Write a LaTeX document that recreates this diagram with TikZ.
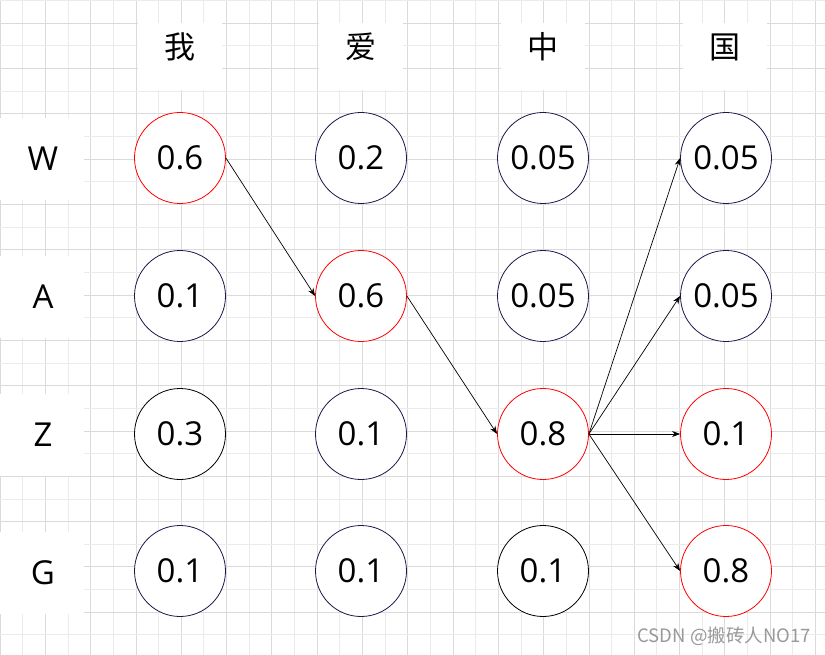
\documentclass[tikz,border=0pt]{standalone}
\usepackage{fontspec}
\setmainfont{Open Sans}
\newfontfamily\cjk{Noto Sans CJK SC}
\usetikzlibrary{arrows.meta}
\definecolor{navy}{HTML}{1A1A4A}
\definecolor{gridlight}{HTML}{EBEBEB}
\definecolor{griddark}{HTML}{DADADA}
\definecolor{redline}{HTML}{FF0000}
\tikzset{
  prob/.style={circle, draw, fill=white, line width=0.8pt, minimum size=91pt, inner sep=0pt, font=\fontsize{33}{38}\selectfont},
  navyc/.style={prob, draw=navy},
  blackc/.style={prob, draw=black},
  redc/.style={prob, draw=redline},
  headbox/.style={fill=white, minimum width=84pt, minimum height=67pt, inner sep=0pt},
  rowbox/.style={fill=white, minimum width=84pt, minimum height=82pt, inner sep=0pt},
  headtxt/.style={font=\cjk\fontsize{31}{35}\selectfont, inner sep=0pt},
  rowtxt/.style={font=\fontsize{33}{38}\selectfont, inner sep=0pt},
  link/.style={-{Stealth[length=8pt,width=6pt]}, line width=0.7pt, black},
}
\begin{document}
\begin{tikzpicture}[x=1pt,y=-1pt]
\useasboundingbox (0,0) rectangle (825,655);
\fill[white] (0,0) rectangle (825,655);
% grid
\foreach \n in {1,3,...,35} \draw[gridlight, line width=0.8pt] ({22.65*\n},0) -- ({22.65*\n},655);
\foreach \n in {0,2,...,36} \draw[griddark, line width=0.8pt] ({22.65*\n},0) -- ({22.65*\n},655);
\foreach \n in {0,2,...,28} \draw[gridlight, line width=0.8pt] (0,{0.6+22.65*\n}) -- (825,{0.6+22.65*\n});
\foreach \n in {1,3,...,27} \draw[griddark, line width=0.8pt] (0,{0.6+22.65*\n}) -- (825,{0.6+22.65*\n});
% header boxes and labels
\foreach \x/\t [count=\i] in {180/我,361/爱,543/中,725/国}{
  \node[headbox] (hb\i) at (\x,56.5) {};
  \node[headtxt] (h\i) at (\x,47) {\t};
}
% row label boxes
\foreach \y/\t [count=\i] in {159/W,297/A,435/Z,573/G}{
  \node[rowbox] (rb\i) at (42,\y) {};
  \node[rowtxt] (r\i) at (43,\y) {\t};
}
% circles
\node[redc]   (c11) at (180,158) {0.6};
\node[navyc]  (c12) at (180,296) {0.1};
\node[blackc] (c13) at (180,434) {0.3};
\node[navyc]  (c14) at (180,571) {0.1};
\node[navyc]  (c21) at (361,158) {0.2};
\node[redc]   (c22) at (361,296) {0.6};
\node[navyc]  (c23) at (361,434) {0.1};
\node[navyc]  (c24) at (361,571) {0.1};
\node[navyc]  (c31) at (543,158) {0.05};
\node[navyc]  (c32) at (543,296) {0.05};
\node[redc]   (c33) at (543,434) {0.8};
\node[blackc] (c34) at (543,571) {0.1};
\node[navyc]  (c41) at (726,158) {0.05};
\node[navyc]  (c42) at (726,296) {0.05};
\node[redc]   (c43) at (726,434) {0.1};
\node[redc]   (c44) at (726,571) {0.8};
% connectors
\draw[link] (c11.east) -- (c22.west);
\draw[link] (c22.east) -- (c33.west);
\draw[link] (c33.east) -- (c41.west);
\draw[link] (c33.east) -- (c42.west);
\draw[link] (c33.east) -- (c43.west);
\draw[link] (c33.east) -- (c44.west);
% watermark
\node[anchor=east, inner sep=0pt, text=gray!80, font=\cjk\fontsize{18.5}{20}\selectfont] (wm) at (811,636) {CSDN @搬砖人NO17};
\end{tikzpicture}
\end{document}
